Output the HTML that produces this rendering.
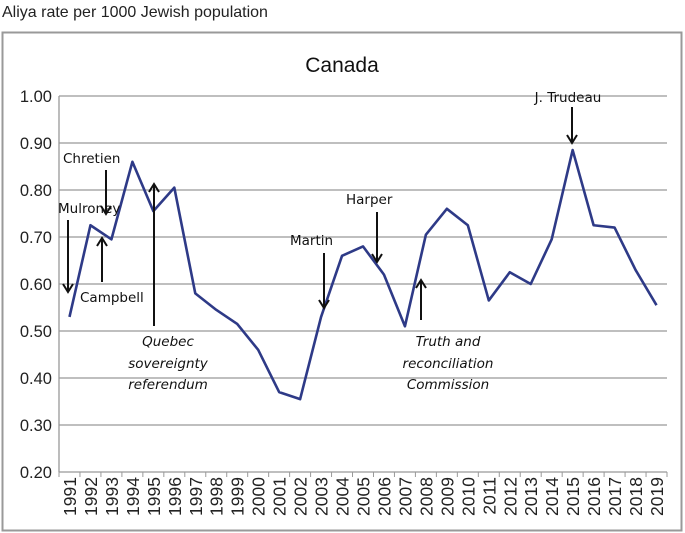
<!DOCTYPE html>
<html><head><meta charset="utf-8"><style>
body{margin:0;background:#fff;}
svg{display:block;font-family:"Liberation Sans",sans-serif;}
</style></head><body>
<svg id="c" width="685" height="533">
<text x="2" y="17" font-size="16" fill="#222">Aliya rate per 1000 Jewish population</text>
<rect x="2.5" y="32.5" width="679" height="498" fill="none" stroke="#999" stroke-width="2"/>
<text x="342" y="72" font-size="21" text-anchor="middle" fill="#111">Canada</text>
<g id="grid"></g><g id="axes"></g><g id="series"></g><g id="notes" font-family="'DejaVu Sans','Liberation Sans',sans-serif" font-size="13.5" fill="#111"></g>
</svg>
<script>
const years=[1991,1992,1993,1994,1995,1996,1997,1998,1999,2000,2001,2002,2003,2004,2005,2006,2007,2008,2009,2010,2011,2012,2013,2014,2015,2016,2017,2018,2019];
const rates=[0.53,0.725,0.695,0.86,0.755,0.805,0.58,0.545,0.515,0.46,0.37,0.355,0.53,0.66,0.68,0.62,0.51,0.705,0.76,0.725,0.565,0.625,0.60,0.695,0.885,0.725,0.72,0.63,0.555];
const yTicks=[0.2,0.3,0.4,0.5,0.6,0.7,0.8,0.9,1.0];
const NS="http://www.w3.org/2000/svg";
const x0=59,x1=667,yMin=0.2,yMax=1.0,py0=472,py1=96;
const bw=(x1-x0)/years.length;
const X=i=>x0+bw*(i+0.5);
const Y=v=>py0-(v-yMin)/(yMax-yMin)*(py0-py1);
function mk(t,a,p){const e=document.createElementNS(NS,t);for(const k in a)e.setAttribute(k,a[k]);p.appendChild(e);return e;}
const grid=document.getElementById('grid'),axes=document.getElementById('axes'),ser=document.getElementById('series'),notes=document.getElementById('notes');
yTicks.forEach(v=>{
 const l=mk('line',{x1:x0,x2:x1,y1:Y(v),y2:Y(v),stroke:'#999','stroke-width':1.3},grid);
 
 
 const t=mk('text',{x:x0-7,y:Y(v)+6,'text-anchor':'end','font-size':16.5,fill:'#222'},axes);
 t.textContent=v.toFixed(2);
 
 
});
mk('line',{x1:x0,x2:x0,y1:py1,y2:py0,stroke:'#999','stroke-width':1.3},axes);
years.forEach((yr,i)=>{
 mk('line',{x1:x0+bw*i,x2:x0+bw*i,y1:py0,y2:py0+5,stroke:'#999'},axes);
 const t=mk('text',{transform:`translate(${X(i)+6.5},${py0+5}) rotate(-90)`,'text-anchor':'end','font-size':17.5,fill:'#222'},axes);
 t.textContent=yr;
 
 
});
mk('line',{x1:x1,x2:x1,y1:py0,y2:py0+5,stroke:'#999'},axes);
const p=mk('polyline',{points:rates.map((v,i)=>X(i)+','+Y(v)).join(' '),fill:'none',stroke:'#2e3a87','stroke-width':2.6,'stroke-linejoin':'round'},ser);


function arrow(x,ya,yb){mk('line',{x1:x,x2:x,y1:ya,y2:yb,stroke:'#111','stroke-width':2},notes);const d=yb>ya?-1:1;mk('polyline',{points:`${x-5},${yb+d*8} ${x},${yb} ${x+5},${yb+d*8}`,fill:'none',stroke:'#111','stroke-width':2},notes);}
function txt(x,y,s,it,anc){const t=mk('text',{x:x,y:y,'text-anchor':anc||'start','font-style':it?'italic':'normal'},notes);t.textContent=s;}
txt(58,213,'Mulroney');arrow(68,220,292);
txt(63,163,'Chretien');arrow(106,170,214);
txt(80,302,'Campbell');arrow(102,282,238);
arrow(154,326,184);
txt(168,346,'Quebec',true,'middle');txt(168,368,'sovereignty',true,'middle');txt(168,389,'referendum',true,'middle');
txt(290,245,'Martin');arrow(324,253,308);
txt(346,204,'Harper');arrow(377,212,262);
arrow(421,320,280);
txt(448,346,'Truth and',true,'middle');txt(448,368,'reconciliation',true,'middle');txt(448,389,'Commission',true,'middle');
txt(568,102,'J. Trudeau',false,'middle');arrow(572,107,143);
</script>
</body></html>
